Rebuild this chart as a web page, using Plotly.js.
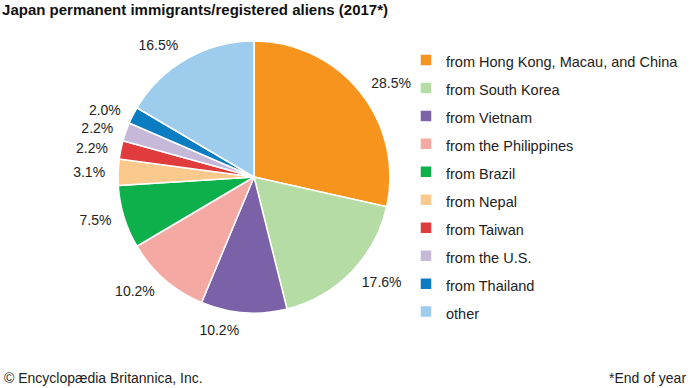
<!DOCTYPE html>
<html><head><meta charset="utf-8">
<script src="https://cdn.plot.ly/plotly-3.0.1.min.js"></script>
<style>body{margin:0;background:#fff}#c{width:690px;height:388px}</style>
</head><body><div id="c"></div>
<script>
const categories = ["from Hong Kong, Macau, and China","from South Korea","from Vietnam","from the Philippines","from Brazil","from Nepal","from Taiwan","from the U.S.","from Thailand","other"];
const values = [28.5,17.6,10.2,10.2,7.5,3.1,2.2,2.2,2.0,16.5];
const colors = ["#F7941D","#B5DCA5","#7B61A8","#F4A9A3","#0DB04B","#FBC98B","#E03C3E","#C5B8D9","#0A7DC2","#9ECCEC"];
const font = "Liberation Sans, Arial, sans-serif";
const W = 690, H = 388;
const pie = {l: 118, r: 390, t: 41, b: 313};
const pad = 9; // label trace slightly larger so labels sit a bit further out
const legendLabels = categories.map(c => "<span style='font-size:14.5px'>" + c + "</span>");
Plotly.newPlot("c", [{
  type: "pie", labels: legendLabels, values: values, sort: false, direction: "clockwise", rotation: 0,
  marker: {colors: colors, line: {color: "#fff", width: 1.5}},
  textinfo: "none", hoverinfo: "label+value",
  domain: {x: [pie.l/W, pie.r/W], y: [1-pie.b/H, 1-pie.t/H]}
}, {
  type: "pie", labels: categories.map((c, i) => "lbl" + i), values: values, sort: false, direction: "clockwise", rotation: 0,
  marker: {colors: categories.map(() => "rgba(0,0,0,0)"), line: {width: 0}},
  showlegend: false, hoverinfo: "skip",
  textposition: "outside", texttemplate: "%{value:.1f}%", textfont: {family: font, size: 14, color: "#222"},
  domain: {x: [(pie.l-pad)/W, (pie.r+pad)/W], y: [1-(pie.b+pad)/H, 1-(pie.t-pad)/H]}
}], {
  width: W, height: H, margin: {l: 0, r: 0, t: 0, b: 0},
  paper_bgcolor: "#fff", showlegend: true,
  font: {family: font, color: "#222"},
  title: {text: "<b>Japan permanent immigrants/registered aliens (2017*)</b>", x: 0.003, xanchor: "left", y: 0.975, yanchor: "middle", font: {family: font, size: 15, color: "#111"}},
  legend: {x: 406/W, y: 1-41/H, xanchor: "left", yanchor: "top", bgcolor: "rgba(0,0,0,0)", font: {family: font, size: 19.2, color: "#222"}, tracegroupgap: 0, itemwidth: 30},
  annotations: [
    {text: "© Encyclopædia Britannica, Inc.", x: 0.003, y: 0, xref: "paper", yref: "paper", xanchor: "left", yanchor: "bottom", showarrow: false, font: {family: font, size: 14, color: "#222"}},
    {text: "*End of year", x: 0.997, y: 0, xref: "paper", yref: "paper", xanchor: "right", yanchor: "bottom", showarrow: false, font: {family: font, size: 14, color: "#222"}}
  ]
}, {displayModeBar: false});
</script></body></html>
